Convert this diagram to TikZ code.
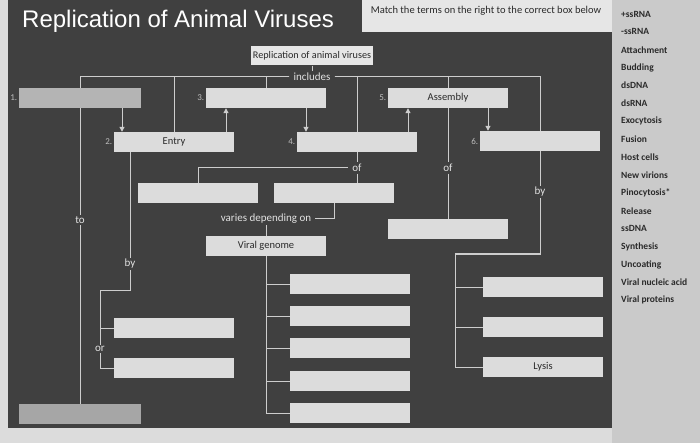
\documentclass[tikz,border=0pt]{standalone}
\usepackage{fontspec}
\setmainfont{Carlito}
\newfontfamily\titlefont{Liberation Sans}
\usetikzlibrary{arrows.meta,positioning,backgrounds}
\definecolor{vboard}{HTML}{404040}
\definecolor{vbox}{HTML}{DCDCDC}
\definecolor{vboxdk}{HTML}{B4B4B4}
\definecolor{vline}{HTML}{CDCDCD}
\definecolor{vlabel}{HTML}{E2E2E2}
\definecolor{vnum}{HTML}{BDBDBD}
\definecolor{vink}{HTML}{2A2A2A}
\definecolor{vpanel}{HTML}{CACACA}
\definecolor{vstrip}{HTML}{DCDCDC}
\definecolor{vmatch}{HTML}{E6E6E6}

\begin{document}
\begin{tikzpicture}[
    x=1pt, y=-1pt,
    blank/.style={rectangle, minimum width=120pt, minimum height=20pt,
                  inner sep=0pt, fill=vbox, text=vink,
                  font=\fontsize{10.5}{12}\selectfont},
    tag/.style={fill=vboard, inner xsep=4pt, inner ysep=1.5pt, text=vlabel,
                font=\fontsize{11}{13}\selectfont},
    num/.style={inner sep=0.5pt, text=vnum, font=\fontsize{9}{10}\selectfont},
    link/.style={draw=vline, line width=1pt},
    arr/.style={-{Triangle[length=5pt, width=5pt]}, draw=vline, line width=1pt},
    term/.style={anchor=west, inner sep=0pt, text=vink,
                 font=\fontsize{9.5}{11}\selectfont\bfseries}
  ]
  \useasboundingbox (0,0) rectangle (700,443);

  % ---- Board and side panel ----
  \begin{scope}[on background layer]
    \fill[vstrip] (0,0) rectangle (700,443);
    \fill[vboard] (8,0) rectangle (612,428);
    \fill[vpanel] (612,0) rectangle (700,443);
    \fill[vmatch] (362,0) rectangle (612,32);
  \end{scope}

  % ---- Title row ----
  \node[anchor=base west, inner sep=0pt, text=white,
        font=\titlefont\fontsize{24}{27}\selectfont]
    (title) at (22,28) {Replication of Animal Viruses};
  \node[inner sep=0pt, text=vink, font=\fontsize{10.5}{12}\selectfont]
    (match) at (486,11) {Match the terms on the right to the correct box below};

  % ---- Top concept ----
  \node[blank, minimum width=122pt, minimum height=19pt, fill=vmatch,
        font=\fontsize{10.2}{12}\selectfont]
    (top) at (312,56) {Replication of animal viruses};
  \node[tag] (inc) at (312,77) {includes};

  % ---- Stages 1-6 ----
  \node[blank, minimum width=122pt, fill=vboxdk] (b1) at (80,98) {};
  \node[blank] (b3) at (266,98) {};
  \node[blank] (b5) at (448,98) {Assembly};
  \node[blank] (b2) at (174,142) {Entry};
  \node[blank] (b4) at (357,142) {};
  \node[blank] (b6) at (540,141) {};

  \node[num, left=1pt of b1] (n1) {1.};
  \node[num, left=1pt of b2] (n2) {2.};
  \node[num, left=1pt of b3] (n3) {3.};
  \node[num, left=1pt of b4] (n4) {4.};
  \node[num, left=1pt of b5] (n5) {5.};
  \node[num, left=1pt of b6] (n6) {6.};

  % ---- Branch under stage 4 ----
  \node[tag] (of1) at (357,168) {of};
  \node[blank] (bA) at (198,193) {};
  \node[blank] (bB) at (334,193) {};
  \node[tag] (vd) at (266,219) {varies depending on};
  \node[blank] (gen) at (266,246) {Viral genome};
  \foreach \i/\y in {1/284,2/316,3/348,4/381,5/413}
    \node[blank] (g\i) at (350,\y) {};

  % ---- Branch under entry ----
  \node[tag] (by1) at (130,264) {by};
  \coordinate (lj) at (100,290);
  \node[blank] (e1) at (174,328) {};
  \node[blank] (e2) at (174,368) {};
  \node[tag] (or1) at (100,349) {or};
  \node[tag] (to1) at (80,220) {to};
  \node[blank, minimum width=122pt, fill=vboxdk!92!black] (bL) at (80,414) {};

  % ---- Branches under stages 5 and 6 ----
  \node[tag] (of2) at (448,168) {of};
  \node[blank] (bC) at (448,229) {};
  \node[tag] (by2) at (540,192) {by};
  \coordinate (rj) at (455,254);
  \node[blank] (r1) at (543,287) {};
  \node[blank] (r2) at (543,327) {};
  \node[blank] (r3) at (543,367) {Lysis};

  % ---- Connectors ----
  \begin{scope}[on background layer]
    \draw[link] (top) -- (inc);
    \foreach \b in {b1,b2,b3}
      \draw[link] (inc.west) -| (\b.north);
    \foreach \b in {b4,b5,b6}
      \draw[link] (inc.east) -| (\b.north);

    \draw[link] (b4) -- (of1);
    \draw[link] (of1) -- (of1 |- bB.north);
    \draw[link] (bA.north) |- (of1.west);
    \draw[link] (bB.south) |- (vd.east);
    \draw[link] (vd) -- (gen);
    \foreach \i in {1,...,5}
      \draw[link] (gen.south) |- (g\i.west);

    \draw[link] ([xshift=-44pt]b2.south) -- (by1);
    \draw[link] (by1.south) |- (lj) |- (e2.west);
    \draw[link] (lj) |- (e1.west);
    \draw[link] (b1.south) -- (bL.north);

    \draw[link] (b5) -- (of2);
    \draw[link] (of2) -- (bC);
    \draw[link] (b6) -- (by2);
    \draw[link] (by2.south) |- (rj);
    \foreach \r in {r1,r2,r3}
      \draw[link] (rj) |- (\r.west);
  \end{scope}

  % ---- Arrows between stages ----
  \draw[arr] ([xshift=-52pt]b2.north |- b1.south) -- ([xshift=-52pt]b2.north);
  \draw[arr] ([xshift=52pt]b2.north) -- ([xshift=52pt]b2.north |- b3.south);
  \draw[arr] ([xshift=-51pt]b4.north |- b3.south) -- ([xshift=-51pt]b4.north);
  \draw[arr] ([xshift=51pt]b4.north) -- ([xshift=51pt]b4.north |- b5.south);
  \draw[arr] ([xshift=-52pt]b6.north |- b5.south) -- ([xshift=-52pt]b6.north);

  % ---- Term list ----
  \foreach \t [count=\i from 0] in {+ssRNA,-ssRNA,Attachment,Budding,dsDNA,
      dsRNA,Exocytosis,Fusion,Host cells,New virions,Pinocytosis*,Release,
      ssDNA,Synthesis,Uncoating,Viral nucleic acid,Viral proteins}
    \node[term] (t\i) at (621,{14+17.9*\i}) {\t};

\end{tikzpicture}
\end{document}
